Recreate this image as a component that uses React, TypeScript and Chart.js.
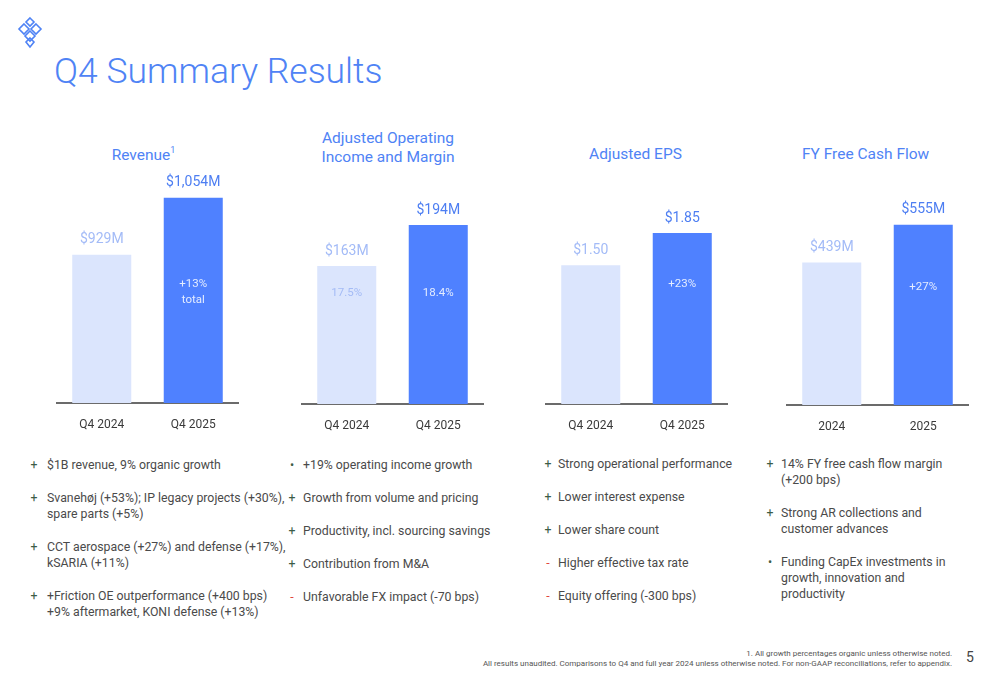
import React, { useEffect, useRef } from "react";
import { Chart, registerables } from "chart.js";

Chart.register(...registerables);

// ---------- data ----------
const quarterCategories = ["Q4 2024", "Q4 2025"];
const yearCategories = ["2024", "2025"];

const revenueValues = [929, 1054];
const revenueTopLabels = ["$929M", "$1,054M"];
const revenueInnerLabels = [[], ["+13%", "total"]];

const aoiValues = [163, 194];
const aoiTopLabels = ["$163M", "$194M"];
const aoiInnerLabels = [["17.5%"], ["18.4%"]];

const epsValues = [1.5, 1.85];
const epsTopLabels = ["$1.50", "$1.85"];
const epsInnerLabels = [[], ["+23%"]];

const fcfValues = [439, 555];
const fcfTopLabels = ["$439M", "$555M"];
const fcfInnerLabels = [[], ["+27%"]];

// ---------- style ----------
const FONT = "Roboto, 'Noto Sans', sans-serif";
const LIGHT = "#dbe5fd";
const DARK = "#4f81ff";
const AXIS = "#6b6b6b";
const TITLE_BLUE = "#4f83f5";
const CANVAS_TOP = 150;

const barLabelPlugin = {
  id: "barLabels",
  afterDatasetsDraw(chart: any, _args: any, opts: any) {
    const ctx = chart.ctx;
    const meta = chart.getDatasetMeta(0);
    meta.data.forEach((bar: any, i: number) => {
      const { x, y } = bar.getProps(["x", "y"], true);
      ctx.save();
      ctx.textAlign = "center";
      ctx.textBaseline = "middle";
      ctx.font = `400 14px ${FONT}`;
      ctx.fillStyle = i === 0 ? "#a3bbf7" : "#4d7ef2";
      ctx.fillText(opts.top[i], x, y - 15);
      const lines: string[] = opts.inner[i] || [];
      ctx.font = `400 11.5px ${FONT}`;
      ctx.fillStyle = i === 0 ? "#a4bbf5" : "#e4ecff";
      const base = chart.chartArea.bottom - opts.innerOffset;
      lines.forEach((l, j) => {
        ctx.fillText(l, x, base + (j - (lines.length - 1) / 2) * 16);
      });
      ctx.restore();
    });
  },
};

type BarProps = {
  categories: string[];
  values: number[];
  topLabels: string[];
  innerLabels: string[][];
  yMin: number;
  yMax: number;
  left: number;
  baseline: number;
  innerOffset: number;
};

function BarChart(p: BarProps) {
  const ref = useRef<HTMLCanvasElement>(null);
  useEffect(() => {
    const chart = new Chart(ref.current as HTMLCanvasElement, {
      type: "bar",
      data: {
        labels: p.categories,
        datasets: [
          {
            data: p.values,
            backgroundColor: [LIGHT, DARK],
            borderWidth: 0,
            barPercentage: 0.645,
            categoryPercentage: 1,
          },
        ],
      },
      options: {
        responsive: false,
        animation: false,
        devicePixelRatio: 1,
        layout: { padding: { top: 20, left: 0, right: 0, bottom: 0 } },
        plugins: {
          legend: { display: false },
          tooltip: { enabled: false },
          barLabels: { top: p.topLabels, inner: p.innerLabels, innerOffset: p.innerOffset },
        } as any,
        scales: {
          x: {
            offset: true,
            z: 1,
            grid: { display: false, drawTicks: false },
            border: { display: true, color: AXIS, width: 2 },
            ticks: {
              color: "#3a3a3a",
              padding: 14,
              font: { family: FONT, size: 12, lineHeight: "16px" },
            },
          },
          y: { display: false, min: p.yMin, max: p.yMax },
        },
      } as any,
      plugins: [barLabelPlugin],
    });
    return () => chart.destroy();
  }, []);
  return (
    <canvas
      ref={ref}
      width={183}
      height={p.baseline - CANVAS_TOP + 44}
      style={{ position: "absolute", left: p.left, top: CANVAS_TOP }}
    />
  );
}

function ChartTitle({ cx, cy, children, lines = 1, align = "center", left }: any) {
  const lh = 19;
  const style: React.CSSProperties =
    align === "center"
      ? { position: "absolute", left: cx - 120, width: 240, textAlign: "center" }
      : { position: "absolute", left, whiteSpace: "nowrap" };
  return (
    <div
      style={{
        ...style,
        top: cy - (lines * lh) / 2,
        fontFamily: FONT,
        fontSize: 15.5,
        lineHeight: `${lh}px`,
        color: TITLE_BLUE,
        fontWeight: 400,
      }}
    >
      {children}
    </div>
  );
}

type Bullet = { m: string; lines: string[] };

const col1Bullets: Bullet[] = [
  { m: "+", lines: ["$1B revenue, 9% organic growth"] },
  { m: "+", lines: ["Svanehøj (+53%); IP legacy projects (+30%),", "spare parts (+5%)"] },
  { m: "+", lines: ["CCT aerospace (+27%) and defense (+17%),", "kSARIA (+11%)"] },
  { m: "+", lines: ["+Friction OE outperformance (+400 bps)", "+9% aftermarket, KONI defense (+13%)"] },
];
const col2Bullets: Bullet[] = [
  { m: "•", lines: ["+19% operating income growth"] },
  { m: "+", lines: ["Growth from volume and pricing"] },
  { m: "+", lines: ["Productivity, incl. sourcing savings"] },
  { m: "+", lines: ["Contribution from M&A"] },
  { m: "-", lines: ["Unfavorable FX impact (-70 bps)"] },
];
const col3Bullets: Bullet[] = [
  { m: "+", lines: ["Strong operational performance"] },
  { m: "+", lines: ["Lower interest expense"] },
  { m: "+", lines: ["Lower share count"] },
  { m: "-", lines: ["Higher effective tax rate"] },
  { m: "-", lines: ["Equity offering (-300 bps)"] },
];
const col4Bullets: Bullet[] = [
  { m: "+", lines: ["14% FY free cash flow margin", "(+200 bps)"] },
  { m: "+", lines: ["Strong AR collections and", "customer advances"] },
  { m: "•", lines: ["Funding CapEx investments in", "growth, innovation and", "productivity"] },
];

function BulletList({ items, markerX, textX, top }: { items: Bullet[]; markerX: number; textX: number; top: number }) {
  return (
    <div style={{ position: "absolute", left: 0, top, fontFamily: FONT, fontSize: 12.3, lineHeight: "16px", color: "#4a4a4a" }}>
      {items.map((b, i) => (
        <div key={i} style={{ position: "relative", height: b.lines.length * 16, marginBottom: 17 }}>
          <span
            style={{
              position: "absolute",
              left: markerX - 5,
              width: 10,
              textAlign: "center",
              color: b.m === "-" ? "#e0463c" : "#3c5c46",
            }}
          >
            {b.m}
          </span>
          <div style={{ position: "absolute", left: textX, whiteSpace: "nowrap" }}>
            {b.lines.map((l, j) => (
              <div key={j}>{l}</div>
            ))}
          </div>
        </div>
      ))}
    </div>
  );
}

function Logo() {
  const c = "#4f83f5";
  return (
    <svg width="30" height="34" viewBox="0 0 30 34" style={{ position: "absolute", left: 16, top: 16 }}>
      <g fill="none" stroke={c} strokeWidth="1.6">
        <path d="M14 2 L18 6 L14 10 L10 6 Z" />
        <path d="M8 8 L13 13 L8 18 L3 13 Z" />
        <path d="M20 8 L25 13 L20 18 L15 13 Z" />
        <path d="M14 15 L19 20 L14 25 L9 20 Z" />
        <path d="M14 22 L18 26 L14 31 L10 26 Z" />
      </g>
    </svg>
  );
}

export default function App() {
  return (
    <div
      style={{
        position: "absolute",
        left: 0,
        top: 0,
        width: 1000,
        height: 685,
        background: "#ffffff",
        overflow: "hidden",
        fontFamily: FONT,
      }}
    >
      <Logo />
      <div
        style={{
          position: "absolute",
          left: 54,
          top: 49,
          fontSize: 35.5,
          lineHeight: "44px",
          fontWeight: 300,
          color: TITLE_BLUE,
          whiteSpace: "nowrap",
        }}
      >
        Q4 Summary Results
      </div>

      <ChartTitle cx={143.5} cy={155}>
        Revenue<sup style={{ fontSize: 9, verticalAlign: "7px", lineHeight: 0 }}>1</sup>
      </ChartTitle>
      <ChartTitle cx={388} cy={147.5} lines={2}>
        Adjusted Operating
        <br />
        Income and Margin
      </ChartTitle>
      <ChartTitle cx={635.5} cy={154}>
        Adjusted EPS
      </ChartTitle>
      <ChartTitle align="left" left={802} cy={154}>
        FY Free Cash Flow
      </ChartTitle>

      <BarChart
        categories={quarterCategories}
        values={revenueValues}
        topLabels={revenueTopLabels}
        innerLabels={revenueInnerLabels}
        yMin={604}
        yMax={1115}
        left={56}
        baseline={403}
        innerOffset={111}
      />
      <BarChart
        categories={quarterCategories}
        values={aoiValues}
        topLabels={aoiTopLabels}
        innerLabels={aoiInnerLabels}
        yMin={58.7}
        yMax={235.6}
        left={301}
        baseline={404}
        innerOffset={111}
      />
      <BarChart
        categories={quarterCategories}
        values={epsValues}
        topLabels={epsTopLabels}
        innerLabels={epsInnerLabels}
        yMin={0}
        yMax={2.532}
        left={545}
        baseline={404}
        innerOffset={120}
      />
      <BarChart
        categories={yearCategories}
        values={fcfValues}
        topLabels={fcfTopLabels}
        innerLabels={fcfInnerLabels}
        yMin={0}
        yMax={724}
        left={786}
        baseline={405}
        innerOffset={118}
      />

      <BulletList items={col1Bullets} markerX={34} textX={47} top={457} />
      <BulletList items={col2Bullets} markerX={292} textX={303} top={457} />
      <BulletList items={col3Bullets} markerX={548} textX={558} top={456} />
      <BulletList items={col4Bullets} markerX={770} textX={781} top={456} />

      <div
        style={{
          position: "absolute",
          right: 48,
          top: 649,
          textAlign: "right",
          fontSize: 8,
          lineHeight: "10px",
          color: "#555",
          whiteSpace: "nowrap",
        }}
      >
        <div>1. All growth percentages organic unless otherwise noted.</div>
        <div>
          All results unaudited. Comparisons to Q4 and full year 2024 unless otherwise noted. For non-GAAP
          reconciliations, refer to appendix.
        </div>
      </div>
      <div
        style={{
          position: "absolute",
          left: 966,
          top: 648,
          fontSize: 14,
          lineHeight: "18px",
          color: "#444",
        }}
      >
        5
      </div>
    </div>
  );
}
